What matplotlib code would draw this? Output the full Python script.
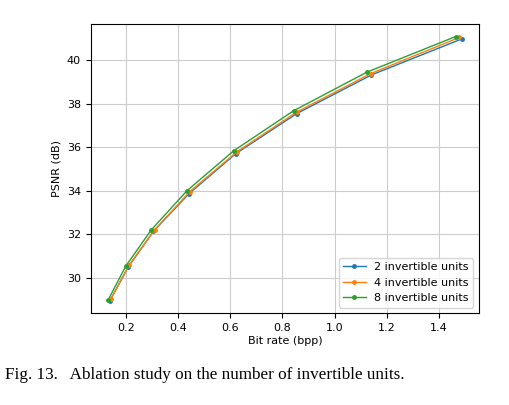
import matplotlib
matplotlib.use("Agg")
import matplotlib.pyplot as plt

# bit rate (bpp) / PSNR (dB) per number of invertible units
bpp_2 = [0.139, 0.209, 0.306, 0.442, 0.621, 0.855, 1.141, 1.487]
psnr_2 = [28.96, 30.50, 32.14, 33.87, 35.70, 37.54, 39.31, 40.96]

bpp_4 = [0.143, 0.213, 0.311, 0.446, 0.625, 0.855, 1.138, 1.478]
psnr_4 = [29.05, 30.60, 32.22, 33.97, 35.78, 37.61, 39.37, 41.03]

bpp_8 = [0.132, 0.200, 0.297, 0.434, 0.614, 0.843, 1.124, 1.464]
psnr_8 = [28.99, 30.55, 32.20, 34.00, 35.84, 37.67, 39.44, 41.07]

labels = ["2 invertible units", "4 invertible units", "8 invertible units"]

fig = plt.figure(figsize=(5.1, 4.05), dpi=100)
ax = fig.add_axes([0.178, 0.227, 0.761, 0.714])

for x, y, lab in zip([bpp_2, bpp_4, bpp_8], [psnr_2, psnr_4, psnr_8], labels):
    ax.plot(x, y, marker=".", markersize=5, linewidth=1, label=lab)

ax.set_xlim(0.066, 1.553)
ax.set_ylim(28.4, 41.65)
ax.set_xticks([0.2, 0.4, 0.6, 0.8, 1.0, 1.2, 1.4])
ax.set_yticks([30, 32, 34, 36, 38, 40])
ax.tick_params(labelsize=8)
ax.grid(True, color="#cccccc", linewidth=0.8)
ax.set_xlabel("Bit rate (bpp)", fontsize=8, labelpad=2)
ax.set_ylabel("PSNR (dB)", fontsize=8)
ax.legend(loc="lower right", fontsize=8)

fig.text(0.01, 0.064, "Fig. 13.   Ablation study on the number of invertible units.",
         family="Liberation Serif", fontsize=12.3, va="baseline", ha="left")

fig.savefig("out.png", dpi=100)
